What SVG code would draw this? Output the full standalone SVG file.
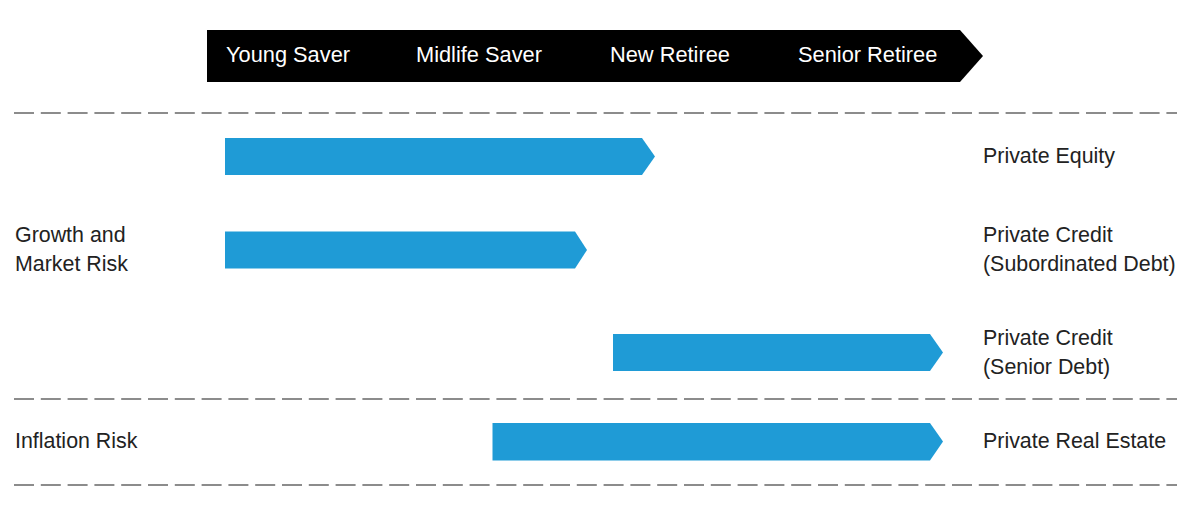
<svg xmlns="http://www.w3.org/2000/svg" width="1191" height="508" viewBox="0 0 1191 508">
<style>
.t{font-family:"Liberation Sans",Arial,sans-serif;font-size:21.4px;fill:#222}
.h{font-family:"Liberation Sans",Arial,sans-serif;font-size:21.8px;fill:#fff}
.bar{fill:#1f9bd6}
.div{stroke:#8c8c8c;stroke-width:2;stroke-dasharray:20 6.8;fill:none}
</style>
<rect width="1191" height="508" fill="#fff"/>
<g id="timeline">
<polygon points="207,30 960,30 983,56 960,82 207,82" fill="#000"/>
<text class="h" x="226" y="62">Young Saver</text>
<text class="h" x="416" y="62">Midlife Saver</text>
<text class="h" x="610" y="62">New Retiree</text>
<text class="h" x="798" y="62">Senior Retiree</text>
</g>
<g id="dividers">
<line class="div" x1="14" y1="113" x2="1177" y2="113"/>
<line class="div" x1="14" y1="399" x2="1177" y2="399"/>
<line class="div" x1="14" y1="485" x2="1177" y2="485"/>
</g>
<g id="risk-growth">
<text class="t" x="15" y="242">Growth and</text>
<text class="t" x="15" y="271">Market Risk</text>
</g>
<g id="risk-inflation">
<text class="t" x="15" y="448">Inflation Risk</text>
</g>
<g id="private-equity">
<polygon class="bar" points="225,138 642,138 655,156.5 642,175 225,175"/>
<text class="t" x="983" y="163">Private Equity</text>
</g>
<g id="private-credit-sub">
<polygon class="bar" points="225,231.5 575,231.5 587,250 575,268.5 225,268.5"/>
<text class="t" x="983" y="242">Private Credit</text>
<text class="t" x="983" y="271">(Subordinated Debt)</text>
</g>
<g id="private-credit-senior">
<polygon class="bar" points="613,334 930,334 943,352.5 930,371 613,371"/>
<text class="t" x="983" y="345">Private Credit</text>
<text class="t" x="983" y="374">(Senior Debt)</text>
</g>
<g id="private-real-estate">
<polygon class="bar" points="492.5,423 930,423 943,441.5 930,460.5 492.5,460.5"/>
<text class="t" x="983" y="448">Private Real Estate</text>
</g>
<g id="connectors"></g>
</svg>
